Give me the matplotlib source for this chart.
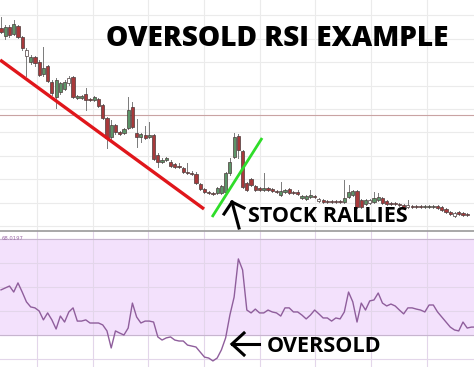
"""
Oversold RSI example: candlestick price panel + RSI panel
"""
import numpy as np
import matplotlib
matplotlib.use('Agg')
import matplotlib.pyplot as plt
from matplotlib.lines import Line2D

# ---- price candles (open, close, high, low), one per bar ----
opens = [202, 194, 203, 196, 204, 193, 180, 168, 173, 168, 156, 164, 148, 133, 138, 141, 147, 153, 132, 132,
         136, 131, 130, 131, 125, 112, 93, 105, 98, 97, 102, 123, 97, 93, 95, 93, 95, 75, 68, 70,
         68, 66, 64, 62, 58, 57, 56, 46, 41, 38, 37, 37, 37, 38, 57, 73, 94, 79, 47, 51,
         44, 42, 40, 42, 41, 39, 35, 38, 41, 38, 38, 32, 31, 33, 34, 31, 30, 29, 29, 29,
         29, 28, 33, 35, 39, 30, 26, 27, 28, 30, 32, 29, 27, 27, 26, 25, 25, 24, 24, 24,
         23, 23, 23, 24, 23, 21, 18, 17, 18, 17, 16]
closes = [198, 203, 195, 206, 193, 182, 174, 173, 167, 155, 162, 149, 137, 150, 147, 148, 152, 133, 134, 134,
          130, 130, 133, 124, 112, 92, 105, 98, 96, 101, 120, 103, 93, 96, 92, 95, 71, 68, 70, 72,
          64, 63, 63, 58, 57, 56, 47, 41, 38, 37, 36, 42, 44, 57, 68, 93, 80, 43, 40, 45,
          40, 40, 42, 40, 39, 38, 39, 40, 37, 37, 36, 34, 34, 35, 33, 29, 28, 28, 28, 28,
          28, 32, 38, 39, 23, 23, 30, 30, 32, 33, 27, 26, 26, 26, 25, 22, 23, 23, 23, 23,
          24, 24, 24, 22, 20, 18, 16, 14, 16, 15, 15]
highs = [213, 205, 205, 210, 205, 194, 182, 175, 174, 170, 183, 165, 150, 152, 148, 150, 154, 154, 135, 135,
         142, 132, 134, 132, 126, 113, 110, 106, 99, 102, 133, 128, 111, 97, 104, 108, 96, 77, 72, 73,
         70, 67, 67, 63, 67, 59, 58, 47, 42, 39, 38, 43, 45, 58, 72, 97, 96, 80, 48, 52,
         45, 43, 57, 43, 42, 40, 48, 41, 42, 39, 40, 35, 35, 40, 35, 32, 31, 30, 30, 30,
         30, 50, 45, 40, 40, 31, 31, 31, 38, 37, 33, 30, 28, 28, 27, 26, 30, 25, 25, 25,
         25, 25, 25, 25, 24, 22, 19, 18, 19, 18, 17]
lows = [197, 191, 193, 195, 192, 180, 154, 166, 164, 154, 154, 148, 135, 122, 136, 140, 145, 132, 131, 131,
        120, 129, 129, 123, 111, 82, 91, 96, 95, 96, 101, 102, 83, 88, 91, 92, 70, 63, 67, 69,
        63, 62, 62, 57, 56, 55, 46, 40, 37, 36, 35, 36, 36, 37, 55, 72, 72, 42, 39, 44,
        39, 39, 39, 39, 38, 37, 34, 37, 36, 36, 35, 31, 30, 32, 32, 28, 27, 27, 27, 27,
        27, 27, 32, 34, 22, 22, 25, 26, 27, 29, 26, 25, 25, 25, 24, 21, 22, 22, 22, 22,
        22, 22, 22, 21, 19, 17, 15, 13, 15, 14, 14]
hollow = [6, 16, 75, 87, 96, 107]

# ---- RSI values, one per bar ----
rsi = [48.8, 49.6, 50.4, 47.9, 51.7, 47.9, 43.8, 41.7, 41.3, 40.0,
       36.3, 39.2, 36.3, 32.5, 37.9, 35.4, 39.6, 41.3, 35.8, 35.8,
       36.3, 35.0, 35.0, 35.0, 34.2, 31.7, 24.6, 31.7, 30.8, 30.0,
       32.9, 43.3, 37.5, 35.0, 35.8, 35.8, 35.4, 29.2, 27.9, 28.8,
       29.2, 27.9, 27.5, 27.5, 25.8, 25.4, 25.0, 22.9, 20.8, 20.4,
       19.2, 20.4, 23.8, 28.8, 38.3, 45.8, 61.7, 57.1, 40.4, 39.2,
       40.8, 39.2, 39.2, 40.4, 39.6, 39.2, 37.9, 41.3, 41.3, 39.6,
       39.6, 38.3, 36.7, 38.3, 40.4, 38.8, 37.1, 37.1, 35.8, 37.1,
       36.7, 39.6, 47.9, 43.8, 35.4, 43.3, 40.4, 44.2, 44.6, 47.5,
       43.3, 42.1, 42.9, 42.1, 40.4, 38.8, 41.3, 41.3, 40.8, 40.4,
       39.6, 42.5, 42.5, 39.6, 37.5, 35.4, 33.3, 32.1, 31.7, 35.4,
       32.9, 33.3, 33.3]
rsi_label = '68.0197'

# trend lines (bar index, price)
down_x, down_y = [-0.2, 47.9], [170, 21]
up_x, up_y = [49.8, 61.6], [13, 92]
marker_price = 115

W, H = 474, 367
fig = plt.figure(figsize=(W / 100, H / 100), dpi=100)
fig.patch.set_facecolor('white')

ax = fig.add_axes([0, 136 / H, 1, 231 / H])
ax2 = fig.add_axes([0, 0, 1, 136 / H])

xlim = (-0.24, 111.6)
vgrid = np.arange(8.5, 112, 13.14)

# ---- price panel ----
ax.set_xlim(*xlim)
ax.set_ylim(-1, 230)
ax.set_xticks(vgrid)
ax.set_yticks(np.arange(4, 230, 23.4))
ax.grid(True, color='#ebebeb', lw=0.8)
ax.tick_params(length=0, labelbottom=False, labelleft=False)
for s in ax.spines.values():
    s.set_visible(False)
ax.axhline(marker_price, color='#c9a3a3', lw=0.8)

x = np.arange(len(opens))
red, green = '#a8393b', '#5c9468'
for i in x:
    o, c = opens[i], closes[i]
    col = green if c >= o else red
    ax.plot([i, i], [lows[i], highs[i]], color='#7a7a7a', lw=0.7, zorder=2)
    fc = 'white' if i in hollow else col
    body = max(abs(c - o), 1.2)
    ax.bar(i, body, bottom=min(o, c) - (body - abs(c - o)) / 2, width=0.75,
           color=fc, edgecolor='#4a3a3a', linewidth=0.5, zorder=3)

ax.plot(down_x, down_y, color='#e0161b', lw=2.4, solid_capstyle='butt', zorder=4)
ax.plot(up_x, up_y, color='#2fdd2a', lw=2.0, solid_capstyle='butt', zorder=4)

# ---- RSI panel ----
ax2.set_xlim(*xlim)
ax2.set_ylim(16.67, 73.33)
ax2.set_xticks(vgrid)
ax2.set_yticks([20, 40, 50, 60])
ax2.grid(True, color='#e3d6ea', lw=0.8)
ax2.tick_params(length=0, labelbottom=False, labelleft=False)
for s in ax2.spines.values():
    s.set_visible(False)
ax2.spines['top'].set_visible(True)
ax2.spines['top'].set_color('#9a9a9a')
ax2.spines['top'].set_linewidth(1.2)
ax2.axhspan(30, 70, color='#f3e1fc', zorder=0)
ax2.axhline(70, color='#c7b5cf', lw=0.8)
ax2.axhline(30, color='#c7b5cf', lw=0.8)
ax2.plot(np.arange(len(rsi)), rsi, color='#8f5e9c', lw=1.0, zorder=3)
ax2.text(0.1, 69.2, rsi_label, fontsize=3.8, color='#9b6aa6', va='bottom')

# ---- annotations ----
def fx(p):
    return p / W

def fy(p):
    return 1 - p / H

fig.text(fx(277), fy(38), 'OVERSOLD RSI EXAMPLE', family='Open Sans', weight='heavy',
         fontsize=20.2, ha='center', va='center', color='black')
fig.text(fx(328), fy(216), 'STOCK RALLIES', family='Open Sans', weight='bold',
         fontsize=15.6, ha='center', va='center', color='black')
fig.text(fx(324), fy(346), 'OVERSOLD', family='Open Sans', weight='bold',
         fontsize=15.6, ha='center', va='center', color='black')

arrows = [
    [(239, 228), (232, 202)], [(224, 214), (232, 202), (244, 208)],
    [(259, 344), (232, 344)], [(244, 333), (232, 344), (244, 355)],
]
for pts in arrows:
    fig.add_artist(Line2D([fx(p[0]) for p in pts], [fy(p[1]) for p in pts],
                          color='black', lw=2.2, solid_joinstyle='miter'))

fig.savefig('out.png', dpi=100)
